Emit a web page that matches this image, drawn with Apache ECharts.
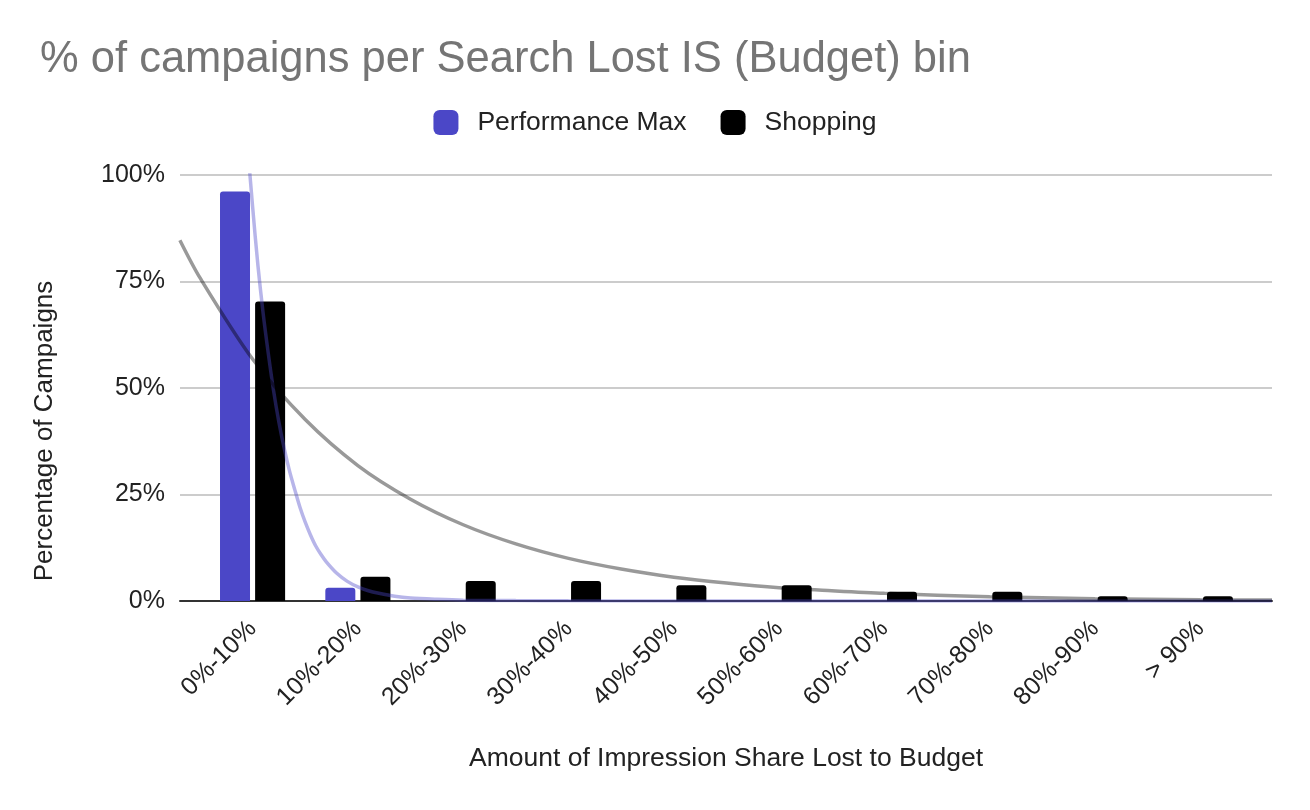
<!DOCTYPE html>
<html>
  <head>
    <meta charset="utf-8" />
    <script src="https://cdn.jsdelivr.net/npm/echarts@6/dist/echarts.min.js"></script>
  </head>
  <body style="margin:0;">
    <div id="chart" style="width: 1310px; height: 810px;"></div>
    <script>
        // Data
        var categories = ['0%-10%', '10%-20%', '20%-30%', '30%-40%', '40%-50%', '50%-60%', '60%-70%', '70%-80%', '80%-90%', '> 90%'];
        var pmaxValues = [96.1, 3.1, 0, 0, 0, 0, 0, 0, 0, 0];
        var shoppingValues = [70.3, 5.7, 4.7, 4.7, 3.7, 3.7, 2.2, 2.2, 1.1, 1.1];
        var yTicks = [0, 25, 50, 75, 100];

        // trendlines as [bin position, %]
        var pmaxTrend = [[-0.1, 127], [-0.05, 108], [0, 92.7], [0.05, 79], [0.1, 67.6], [0.15, 58], [0.2, 49.3],
                         [0.25, 42], [0.3, 35.9], [0.35, 30.6], [0.4, 26.2], [0.45, 22], [0.5, 18.5], [0.55, 15.5],
                         [0.6, 12.9], [0.65, 10.9], [0.7, 9.2], [0.8, 6.5], [0.9, 4.6], [1.0, 3.3], [1.1, 2.4],
                         [1.2, 1.8], [1.35, 1.1], [1.5, 0.7], [1.75, 0.4], [2, 0.2], [2.5, 0.1], [3, 0.05],
                         [5, 0], [9.68, 0]];
        var shoppingTrend = [[-0.69, 84.7], [-0.5, 75.9], [0, 56.8], [0.5, 42.6], [1, 31.8], [1.5, 23.9], [2, 17.9],
                             [2.5, 13.4], [3, 10.0], [3.5, 7.5], [4, 5.6], [4.5, 4.2], [5, 3.1], [5.5, 2.4],
                             [6, 1.8], [7, 1.0], [8, 0.55], [9, 0.31], [9.68, 0.21]];

        var font = '"Liberation Sans", Arial, sans-serif';
        var purple = '#4b47c7';

        var chart = echarts.init(document.getElementById('chart'));

        var option = {
            backgroundColor: '#fff',
            textStyle: { fontFamily: font },
            title: {
                text: '% of campaigns per Search Lost IS (Budget) bin',
                left: 35,
                top: 33,
                textStyle: { fontFamily: font, fontSize: 43.5, fontWeight: 'normal', color: '#757575' }
            },
            legend: {
                data: ['Performance Max', 'Shopping'],
                left: 'center',
                top: 104,
                icon: 'roundRect',
                itemWidth: 25,
                itemHeight: 25,
                itemGap: 34,
                textStyle: { fontFamily: font, fontSize: 26.5, color: '#222', padding: [0, 0, 0, 14] }
            },
            grid: { left: 180, right: 38, top: 175, bottom: 209 },
            xAxis: {
                type: 'value',
                min: -0.689,
                max: 9.68,
                name: 'Amount of Impression Share Lost to Budget',
                nameLocation: 'middle',
                nameGap: 144,
                nameTextStyle: { fontFamily: font, fontSize: 26.5, color: '#222' },
                axisLine: { show: true, onZero: false, lineStyle: { color: '#333', width: 2 } },
                axisTick: { show: false },
                splitLine: { show: false },
                axisLabel: {
                    customValues: categories.map(function (c, i) { return i; }),
                    formatter: function (v) { return categories[Math.round(v)]; },
                    rotate: 45,
                    margin: 24,
                    fontFamily: font,
                    fontSize: 25,
                    color: '#222'
                }
            },
            yAxis: {
                type: 'value',
                min: yTicks[0],
                max: yTicks[yTicks.length - 1],
                interval: 25,
                axisLine: { show: false },
                axisTick: { show: false },
                splitLine: { lineStyle: { color: '#cccccc', width: 2 } },
                axisLabel: { formatter: '{value}%', margin: 15, fontFamily: font, fontSize: 25, color: '#222' }
            },
            graphic: [{
                type: 'text',
                x: 45,
                y: 431,
                rotation: Math.PI / 2,
                style: {
                    text: 'Percentage of Campaigns',
                    fontFamily: font,
                    fontSize: 26,
                    fill: '#222',
                    align: 'center',
                    verticalAlign: 'middle'
                }
            }],
            series: [
                {
                    name: 'Performance Max',
                    type: 'bar',
                    barWidth: 30,
                    barGap: '17%',
                    itemStyle: { color: purple, borderRadius: [3, 3, 0, 0] },
                    data: pmaxValues.map(function (v, i) { return [i, v]; })
                },
                {
                    name: 'Shopping',
                    type: 'bar',
                    barWidth: 30,
                    barGap: '17%',
                    itemStyle: { color: '#000', borderRadius: [3, 3, 0, 0] },
                    data: shoppingValues.map(function (v, i) { return [i, v]; })
                },
                {
                    name: 'Performance Max trend',
                    type: 'line',
                    smooth: 0.3,
                    symbol: 'none',
                    clip: true,
                    lineStyle: { color: purple, opacity: 0.4, width: 3.5 },
                    data: pmaxTrend
                },
                {
                    name: 'Shopping trend',
                    type: 'line',
                    smooth: 0.3,
                    symbol: 'none',
                    clip: true,
                    lineStyle: { color: '#000', opacity: 0.4, width: 3.5 },
                    data: shoppingTrend
                }
            ]
        };

        chart.setOption(option);
    </script>
  </body>
</html>
